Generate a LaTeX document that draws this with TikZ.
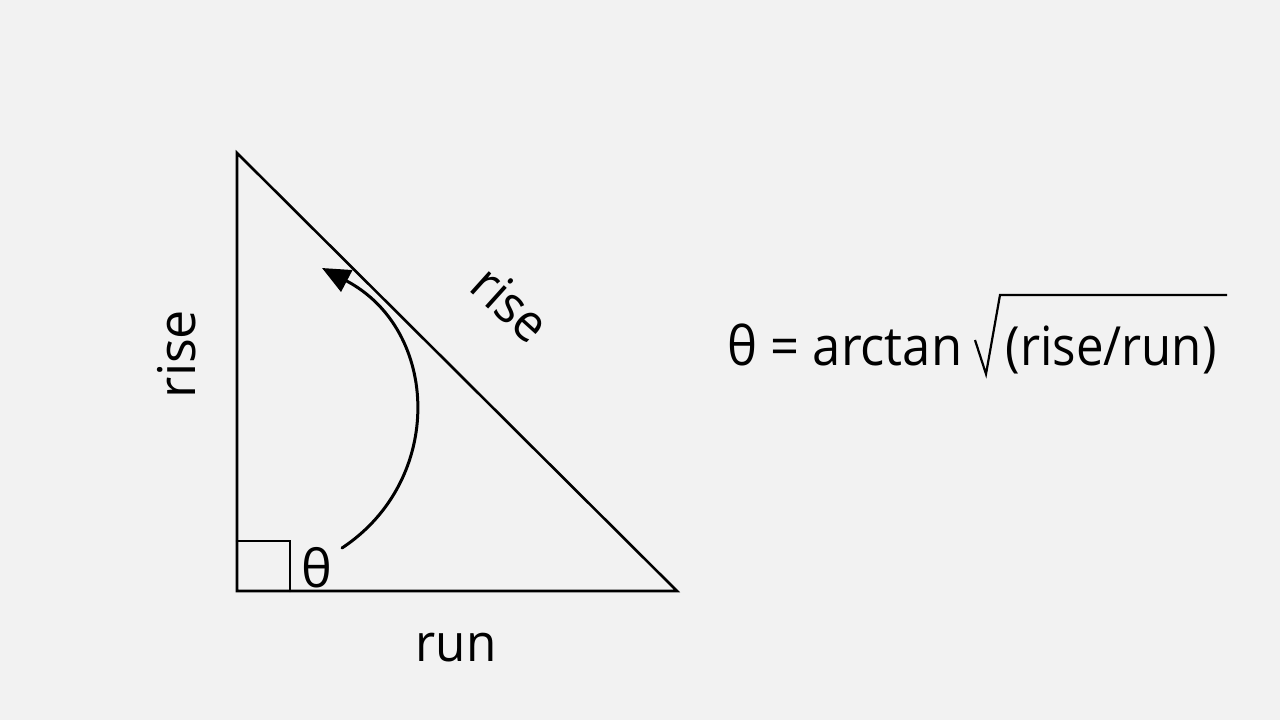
\documentclass[tikz,border=0pt]{standalone}
\usepackage{fontspec}
\usepackage{graphicx}
\setmainfont{Open Sans}
\usetikzlibrary{positioning}
\usetikzlibrary{calc}
\usetikzlibrary{arrows.meta}

\definecolor{paper}{HTML}{F2F2F2}

\tikzset{
	side/.style={line width=1.3pt, line cap=round, line join=miter},
	lbl/.style={inner sep=0pt, font=\fontsize{26}{30}\selectfont},
	formula/.style={inner sep=0pt, font=\fontsize{27}{32}\selectfont}
}

\begin{document}
\begin{tikzpicture}[x=0.5pt, y=-0.5pt]
	% background / bounding box
	\fill[paper] (0,0) rectangle (1280,720);
	\useasboundingbox (0,0) rectangle (1280,720);
	
	%%%% triangle %%%%
	
	\coordinate (T) at (237,153);
	\coordinate (O) at (237,591);
	\coordinate (R) at (677,591);
	
	\draw[side] (T) -- (O) -- (R) -- cycle;
	\draw[side] ($(O)+(0,-50)$) -| ($(O)+(53,0)$);
	
	%%%% labels %%%%
	
	\node[lbl, rotate=90] (riseL) at (177,354) {rise};
	\node[lbl, rotate=-42] (riseH) at (511,304) {\scalebox{0.95}[1]{rise}};
	\node[lbl] (run) at (456,648) {\scalebox{0.95}[1]{run}};
	\node[lbl] (theta) at (317,568) {θ};
	
	%%%% angle arrow %%%%
	
	\coordinate (A0) at (342,548);
	\coordinate (A1) at (322,268);
	\draw[side, line width=1.5pt, -{Triangle[length=14pt, width=12pt]}] (A0) .. controls (445,480) and (440,330) .. (A1);
	
	%%%% formula %%%%
	
	\node[formula, anchor=base west] (lhs) at (727,365) {\scalebox{0.94}[1]{θ = arctan}};
	\node[formula, anchor=base east] (rhs) at (1217,365) {\scalebox{0.91}[1]{(rise/run)}};
	\coordinate (sq0) at (975,340);
	\coordinate (sq1) at (986,374);
	\coordinate (sq2) at (1000,295);
	\coordinate (sq3) at (1227,295);
	\draw[line width=1.1pt, line join=miter] (sq0) -- (sq1) -- (sq2) -- (sq3);
\end{tikzpicture}
\end{document}
